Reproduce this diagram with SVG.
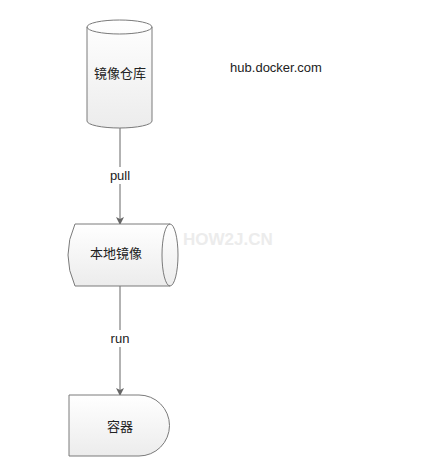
<svg xmlns="http://www.w3.org/2000/svg" width="421" height="474" viewBox="0 0 421 474">
<defs>
<linearGradient id="g" x1="0" y1="0" x2="0" y2="1"><stop offset="0" stop-color="#ffffff"/><stop offset="1" stop-color="#ececec"/></linearGradient>
<marker id="arr" markerWidth="8" markerHeight="8" refX="7" refY="4" orient="auto" markerUnits="userSpaceOnUse"><path d="M0,0 L8,4 L0,8 L2,4 Z" fill="#666"/></marker>
<style>
.s{fill:url(#g);stroke:#7a7a7a;stroke-width:1}
.t{font-family:"Microsoft YaHei","Noto Sans CJK SC",sans-serif;font-size:13px;fill:#222;text-anchor:middle}
.l{font-family:"Liberation Sans",Arial,sans-serif;font-size:13px;fill:#222;text-anchor:middle}
.c{stroke:#666;stroke-width:1;fill:none;marker-end:url(#arr)}
</style>
</defs>
<rect width="421" height="474" fill="#fff"/>
<text x="183" y="245" font-family="Liberation Sans,Arial,sans-serif" font-size="17" font-weight="bold" fill="#ececec">HOW2J.CN</text>
<g id="connectors">
<line class="c" x1="120" y1="128" x2="120" y2="224"/>
<rect x="106" y="167" width="28" height="17" fill="#fff"/>
<text class="l" x="120" y="180">pull</text>
<line class="c" x1="120" y1="286" x2="120" y2="395"/>
<rect x="107" y="330" width="26" height="17" fill="#fff"/>
<text class="l" x="120" y="343">run</text>
</g>
<g id="repo">
<path class="s" d="M87,27 A32.5,7 0 0 1 152,27 L152,121 A32.5,7 0 0 1 87,121 Z"/>
<path d="M87,27 A32.5,7 0 0 0 152,27" fill="none" stroke="#7a7a7a"/>
<text class="t" x="120" y="78">镜像仓库</text>
</g>
<g id="hub">
<text class="l" x="276" y="72">hub.docker.com</text>
</g>
<g id="local">
<path class="s" d="M75,224 L170,224 A8,31 0 0 1 170,286 L75,286 Q61,255 75,224 Z"/>
<path d="M170,224 A8,31 0 0 0 170,286" fill="none" stroke="#7a7a7a"/>
<text class="t" x="116" y="258">本地镜像</text>
</g>
<g id="container">
<path class="s" d="M69,395 L139,395 A30.5,30.5 0 0 1 139,456 L69,456 Z"/>
<text class="t" x="120" y="431">容器</text>
</g>
</svg>
